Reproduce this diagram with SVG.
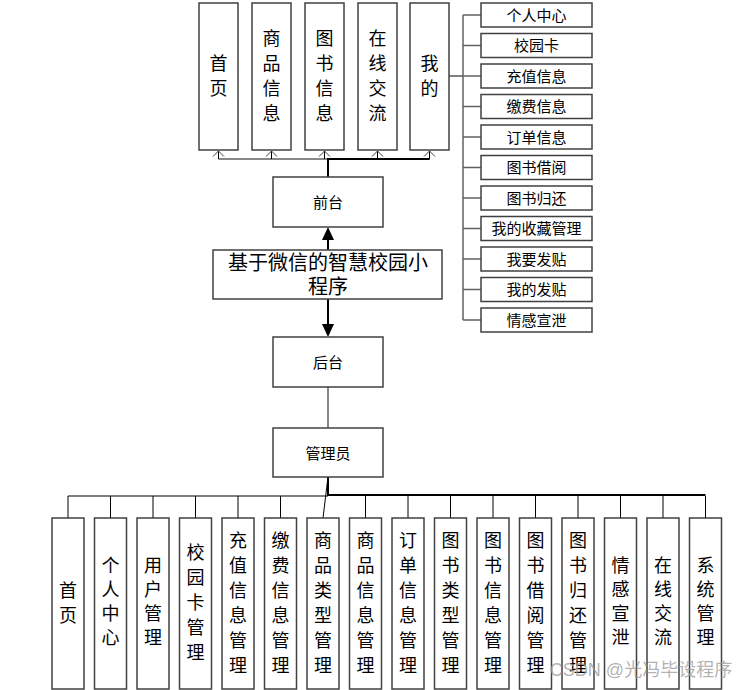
<svg xmlns="http://www.w3.org/2000/svg" width="753" height="690" viewBox="0 0 753 690">
<defs>
<style>
.box{fill:#fff;stroke:#404040;stroke-width:1.5}
.t{font-family:"Liberation Sans","Noto Sans CJK SC",sans-serif;fill:#000;text-anchor:middle;dominant-baseline:central}
.v{font-size:18px}
.s{font-size:15px}
.c{fill:none;stroke:#000;stroke-width:1}
.a{fill:none;stroke:#404040;stroke-width:1}
.g{fill:none;stroke:#606060;stroke-width:1.5}
.k{fill:none;stroke:#000;stroke-width:2}
</style>
</defs>
<rect width="753" height="690" fill="#fff"/>

<g id="connectors">
<path class="g" d="M218.5,159 H429.5"/>
<path class="c" d="M218.5,159 V151 M271.5,159 V151 M324.5,159 V151 M377.5,159 V151 M429.5,159 V151"/>
<path class="a" d="M213,156.5 L218.5,151 L224,156.5 M266,156.5 L271.5,151 L277,156.5 M319,156.5 L324.5,151 L330,156.5 M372,156.5 L377.5,151 L383,156.5 M424,156.5 L429.5,151 L435,156.5"/>
<path class="k" d="M328,177 V159 H429.5"/>
<path class="c" d="M449,76 H463"/>
<path class="g" d="M463,15 V320"/>
<path class="g" d="M463,15 H481 M463,45.5 H481 M463,76 H481 M463,106.5 H481 M463,137 H481 M463,167.5 H481 M463,198 H481 M463,228.5 H481 M463,259 H481 M463,289.5 H481 M463,320 H481"/>
<path class="k" d="M328,250 V238"/>
<polygon points="328,227 322,240 334,240" fill="#000"/>
<path class="k" d="M328,299 V326"/>
<polygon points="328,337 322,324 334,324" fill="#000"/>
<path class="g" d="M328,387 V428"/>
<path class="c" d="M68,496 H328"/>
<path class="k" d="M328,477 V495 H705.5"/>
<path class="c" d="M328,477 L323,518"/>
<path class="c" d="M68,496 V518 M110.5,496 V518 M153,496 V518 M195.5,496 V518 M238,496 V518 M280.5,496 V518 M365.5,496 V518 M408,496 V518 M450.5,496 V518 M493,496 V518 M535.5,496 V518 M578,496 V518 M620.5,496 V518 M663,496 V518 M705.5,496 V518"/>
</g>

<g id="top-home"><rect class="box" x="199" y="3" width="39" height="147"/><text class="t v"><tspan x="218.5" y="64">首</tspan><tspan x="218.5" dy="25">页</tspan></text></g>
<g id="top-goods"><rect class="box" x="252" y="3" width="39" height="147"/><text class="t v"><tspan x="271.5" y="39">商</tspan><tspan x="271.5" dy="25">品</tspan><tspan x="271.5" dy="25">信</tspan><tspan x="271.5" dy="25">息</tspan></text></g>
<g id="top-books"><rect class="box" x="305" y="3" width="39" height="147"/><text class="t v"><tspan x="324.5" y="39">图</tspan><tspan x="324.5" dy="25">书</tspan><tspan x="324.5" dy="25">信</tspan><tspan x="324.5" dy="25">息</tspan></text></g>
<g id="top-chat"><rect class="box" x="358" y="3" width="39" height="147"/><text class="t v"><tspan x="377.5" y="39">在</tspan><tspan x="377.5" dy="25">线</tspan><tspan x="377.5" dy="25">交</tspan><tspan x="377.5" dy="25">流</tspan></text></g>
<g id="top-mine"><rect class="box" x="410" y="3" width="39" height="147"/><text class="t v"><tspan x="429.5" y="64">我</tspan><tspan x="429.5" dy="25">的</tspan></text></g>

<g id="m1"><rect class="box" x="481" y="3" width="111" height="24"/><text class="t s" x="536.5" y="15">个人中心</text></g>
<g id="m2"><rect class="box" x="481" y="33.5" width="111" height="24"/><text class="t s" x="536.5" y="45.5">校园卡</text></g>
<g id="m3"><rect class="box" x="481" y="64" width="111" height="24"/><text class="t s" x="536.5" y="76">充值信息</text></g>
<g id="m4"><rect class="box" x="481" y="94.5" width="111" height="24"/><text class="t s" x="536.5" y="106.5">缴费信息</text></g>
<g id="m5"><rect class="box" x="481" y="125" width="111" height="24"/><text class="t s" x="536.5" y="137">订单信息</text></g>
<g id="m6"><rect class="box" x="481" y="155.5" width="111" height="24"/><text class="t s" x="536.5" y="167.5">图书借阅</text></g>
<g id="m7"><rect class="box" x="481" y="186" width="111" height="24"/><text class="t s" x="536.5" y="198">图书归还</text></g>
<g id="m8"><rect class="box" x="481" y="216.5" width="111" height="24"/><text class="t s" x="536.5" y="228.5">我的收藏管理</text></g>
<g id="m9"><rect class="box" x="481" y="247" width="111" height="24"/><text class="t s" x="536.5" y="259">我要发贴</text></g>
<g id="m10"><rect class="box" x="481" y="277.5" width="111" height="24"/><text class="t s" x="536.5" y="289.5">我的发贴</text></g>
<g id="m11"><rect class="box" x="481" y="308" width="111" height="24"/><text class="t s" x="536.5" y="320">情感宣泄</text></g>

<g id="front"><rect class="box" x="273" y="177" width="110" height="50"/><text class="t s" x="328" y="202">前台</text></g>
<g id="main"><rect class="box" x="213" y="250" width="229" height="49"/><text class="t" style="font-size:20px"><tspan x="328" y="263">基于微信的智慧校园小</tspan><tspan x="328" y="287">程序</tspan></text></g>
<g id="back"><rect class="box" x="273" y="337" width="110" height="50"/><text class="t s" x="328" y="362">后台</text></g>
<g id="admin"><rect class="box" x="273" y="428" width="110" height="49"/><text class="t s" x="328" y="453">管理员</text></g>

<g id="b1"><rect class="box" x="52" y="518" width="32" height="171"/><text class="t v"><tspan x="68" y="591">首</tspan><tspan x="68" dy="25">页</tspan></text></g>
<g id="b2"><rect class="box" x="94.5" y="518" width="32" height="171"/><text class="t v"><tspan x="110.5" y="566">个</tspan><tspan x="110.5" dy="24">人</tspan><tspan x="110.5" dy="24">中</tspan><tspan x="110.5" dy="24">心</tspan></text></g>
<g id="b3"><rect class="box" x="137" y="518" width="32" height="171"/><text class="t v"><tspan x="153" y="566">用</tspan><tspan x="153" dy="24">户</tspan><tspan x="153" dy="24">管</tspan><tspan x="153" dy="24">理</tspan></text></g>
<g id="b4"><rect class="box" x="179.5" y="518" width="32" height="171"/><text class="t v"><tspan x="195.5" y="553">校</tspan><tspan x="195.5" dy="25">园</tspan><tspan x="195.5" dy="25">卡</tspan><tspan x="195.5" dy="25">管</tspan><tspan x="195.5" dy="25">理</tspan></text></g>
<g id="b5"><rect class="box" x="222" y="518" width="32" height="171"/><text class="t v"><tspan x="238" y="541">充</tspan><tspan x="238" dy="25">值</tspan><tspan x="238" dy="25">信</tspan><tspan x="238" dy="25">息</tspan><tspan x="238" dy="25">管</tspan><tspan x="238" dy="25">理</tspan></text></g>
<g id="b6"><rect class="box" x="264.5" y="518" width="32" height="171"/><text class="t v"><tspan x="280.5" y="541">缴</tspan><tspan x="280.5" dy="25">费</tspan><tspan x="280.5" dy="25">信</tspan><tspan x="280.5" dy="25">息</tspan><tspan x="280.5" dy="25">管</tspan><tspan x="280.5" dy="25">理</tspan></text></g>
<g id="b7"><rect class="box" x="307" y="518" width="32" height="171"/><text class="t v"><tspan x="323" y="541">商</tspan><tspan x="323" dy="25">品</tspan><tspan x="323" dy="25">类</tspan><tspan x="323" dy="25">型</tspan><tspan x="323" dy="25">管</tspan><tspan x="323" dy="25">理</tspan></text></g>
<g id="b8"><rect class="box" x="349.5" y="518" width="32" height="171"/><text class="t v"><tspan x="365.5" y="541">商</tspan><tspan x="365.5" dy="25">品</tspan><tspan x="365.5" dy="25">信</tspan><tspan x="365.5" dy="25">息</tspan><tspan x="365.5" dy="25">管</tspan><tspan x="365.5" dy="25">理</tspan></text></g>
<g id="b9"><rect class="box" x="392" y="518" width="32" height="171"/><text class="t v"><tspan x="408" y="541">订</tspan><tspan x="408" dy="25">单</tspan><tspan x="408" dy="25">信</tspan><tspan x="408" dy="25">息</tspan><tspan x="408" dy="25">管</tspan><tspan x="408" dy="25">理</tspan></text></g>
<g id="b10"><rect class="box" x="434.5" y="518" width="32" height="171"/><text class="t v"><tspan x="450.5" y="541">图</tspan><tspan x="450.5" dy="25">书</tspan><tspan x="450.5" dy="25">类</tspan><tspan x="450.5" dy="25">型</tspan><tspan x="450.5" dy="25">管</tspan><tspan x="450.5" dy="25">理</tspan></text></g>
<g id="b11"><rect class="box" x="477" y="518" width="32" height="171"/><text class="t v"><tspan x="493" y="541">图</tspan><tspan x="493" dy="25">书</tspan><tspan x="493" dy="25">信</tspan><tspan x="493" dy="25">息</tspan><tspan x="493" dy="25">管</tspan><tspan x="493" dy="25">理</tspan></text></g>
<g id="b12"><rect class="box" x="519.5" y="518" width="32" height="171"/><text class="t v"><tspan x="535.5" y="541">图</tspan><tspan x="535.5" dy="25">书</tspan><tspan x="535.5" dy="25">借</tspan><tspan x="535.5" dy="25">阅</tspan><tspan x="535.5" dy="25">管</tspan><tspan x="535.5" dy="25">理</tspan></text></g>
<g id="b13"><rect class="box" x="562" y="518" width="32" height="171"/><text class="t v"><tspan x="578" y="541">图</tspan><tspan x="578" dy="25">书</tspan><tspan x="578" dy="25">归</tspan><tspan x="578" dy="25">还</tspan><tspan x="578" dy="25">管</tspan><tspan x="578" dy="25">理</tspan></text></g>
<g id="b14"><rect class="box" x="604.5" y="518" width="32" height="171"/><text class="t v"><tspan x="620.5" y="566">情</tspan><tspan x="620.5" dy="24">感</tspan><tspan x="620.5" dy="24">宣</tspan><tspan x="620.5" dy="24">泄</tspan></text></g>
<g id="b15"><rect class="box" x="647" y="518" width="32" height="171"/><text class="t v"><tspan x="663" y="566">在</tspan><tspan x="663" dy="24">线</tspan><tspan x="663" dy="24">交</tspan><tspan x="663" dy="24">流</tspan></text></g>
<g id="b16"><rect class="box" x="689.5" y="518" width="32" height="171"/><text class="t v"><tspan x="705.5" y="566">系</tspan><tspan x="705.5" dy="24">统</tspan><tspan x="705.5" dy="24">管</tspan><tspan x="705.5" dy="24">理</tspan></text></g>

<text x="641" y="670" style="font-family:'Liberation Sans','Noto Sans CJK SC',sans-serif;font-size:18px;fill:#999;fill-opacity:0.75;text-anchor:middle;dominant-baseline:central">CSDN @光冯毕设程序</text>
</svg>
